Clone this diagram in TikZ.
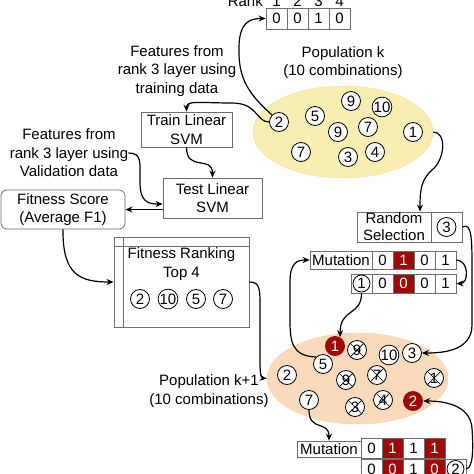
\documentclass[tikz,border=0pt]{standalone}
\usepackage{fontspec}
\setmainfont{Liberation Sans}
\usetikzlibrary{shapes.geometric,arrows.meta,calc}
\definecolor{popy}{RGB}{249,238,178}
\definecolor{popo}{RGB}{249,219,188}
\definecolor{dred}{RGB}{158,8,8}
\definecolor{bord}{RGB}{110,110,110}
\begin{document}
\begin{tikzpicture}[x=1pt,y=-1pt,
  every node/.style={font=\fontsize{15}{18.5}\selectfont},
  txt/.style={align=center,inner sep=0pt},
  box/.style={draw=bord,line width=0.8pt,align=center,inner sep=0pt,fill=white},
  cell/.style={box,minimum width=21pt,minimum height=19pt},
  redcell/.style={cell,fill=dred,text=white},
  circ/.style={circle,draw=black,line width=0.8pt,fill=white,minimum size=19pt,inner sep=0pt},
  smallcirc/.style={circ,minimum size=17pt},
  xcirc/.style={circ,path picture={\draw[line width=0.7pt]
     (path picture bounding box.north west)--(path picture bounding box.south east)
     (path picture bounding box.north east)--(path picture bounding box.south west);}},
  redc/.style={circle,fill=dred,text=white,minimum size=20pt,inner sep=0pt},
  conn/.style={line width=1.2pt,-{Stealth[length=7pt,width=6pt]}}]
\useasboundingbox (0,0) rectangle (474,474);
\fill[white] (0,0) rectangle (474,474);

% ---- Rank header
\node[txt,anchor=base east] (ranklbl) at (263,6) {Rank};
\node[txt,anchor=base] (rk1) at (276.5,6) {1};
\node[txt,anchor=base] (rk2) at (297.5,6) {2};
\node[txt,anchor=base] (rk3) at (318.5,6) {3};
\node[txt,anchor=base] (rk4) at (339.5,6) {4};
\node[cell,minimum height=21pt] (r1) at (276.5,18.5) {0};
\node[cell,minimum height=21pt] (r2) at (297.5,18.5) {0};
\node[cell,minimum height=21pt] (r3) at (318.5,18.5) {1};
\node[cell,minimum height=21pt] (r4) at (339.5,18.5) {0};

% ---- Population k
\node[txt] (popktxt) at (343,62.5) {Population k\\(10 combinations)};
\node[ellipse,fill=popy,draw=popy!85!orange,minimum width=180pt,minimum height=92pt] (popk) at (343,132) {};
\node[circ] (pk2) at (279,122) {2};
\node[circ] (pk5) at (315,116) {5};
\node[circ] (pk9a) at (351,101) {9};
\node[circ] (pk10) at (382,107) {10};
\node[circ] (pk9b) at (338,132) {9};
\node[circ] (pk7a) at (368,127) {7};
\node[circ] (pk1) at (413,132) {1};
\node[circ] (pk7b) at (301,152) {7};
\node[circ] (pk3) at (348,157) {3};
\node[circ] (pk4) at (375,152) {4};

% ---- Left column
\node[txt] (feattrain) at (177,71) {Features from\\rank 3 layer using\\training data};
\node[box,minimum width=91pt,minimum height=35pt] (train) at (186.5,129.5) {Train Linear\\SVM};
\node[box,minimum width=99pt,minimum height=40pt] (test) at (212.5,198) {Test Linear\\SVM};
\node[txt] (featval) at (69,153) {Features from\\rank 3 layer using\\Validation data};
\node[box,rounded corners=6pt,minimum width=124pt,minimum height=39pt] (score) at (63,209.5) {Fitness Score\\(Average F1)};
\node[box,minimum width=135pt,minimum height=90pt] (rank) at (181.5,282) {};
\draw[bord,line width=0.8pt] ($(rank.north west)+(0,10)$) -- ($(rank.north east)+(0,10)$);
\draw[bord,line width=0.8pt] ($(rank.north west)+(10,0)$) -- ($(rank.south west)+(10,0)$);
\node[txt] (ranktxt) at (181.5,264) {Fitness Ranking\\Top 4};
\node[circ] (fr2) at (140,299) {2};
\node[circ] (fr10) at (168,299) {10};
\node[circ] (fr5) at (196,299) {5};
\node[circ] (fr7) at (223,299) {7};

% ---- Random selection
\node[box,minimum width=74pt,minimum height=30pt,font=\fontsize{15}{17}\selectfont] (rsel) at (394,227) {Random\\Selection};
\node[box,minimum width=31pt,minimum height=30pt] (rsel3) at (446.5,227) {};
\node[circ] (rs3) at (446.5,227) {3};

% ---- Mutation 1
\node[box,minimum width=62pt,minimum height=18pt] (mut1) at (341,260) {Mutation};
\node[cell,minimum height=18pt] (m1a) at (382.5,260) {0};
\node[redcell,minimum height=18pt] (m1b) at (403.5,260) {1};
\node[cell,minimum height=18pt] (m1c) at (424.5,260) {0};
\node[cell,minimum height=18pt] (m1d) at (445.5,260) {1};
\node[cell] (m2o) at (361.5,283.5) {};
\node[smallcirc] (m2c) at (361.5,283.5) {1};
\node[cell] (m2a) at (382.5,283.5) {0};
\node[redcell] (m2b) at (403.5,283.5) {0};
\node[cell] (m2c2) at (424.5,283.5) {0};
\node[cell] (m2d) at (445.5,283.5) {1};

% ---- Population k+1
\node[txt] (popk1txt) at (209,391) {Population k+1\\(10 combinations)};
\node[ellipse,fill=popo,draw=popo!85!orange,minimum width=181pt,minimum height=91pt] (popk1) at (357.5,378.5) {};
\node[redc] (q1) at (335,346) {1};
\node[xcirc] (q9a) at (357,350) {9};
\node[circ] (q10) at (389,355) {10};
\node[circ] (q3) at (412,353) {3};
\node[circ] (q5) at (323,364) {5};
\node[circ] (q2) at (287,375) {2};
\node[xcirc] (q9b) at (346,380) {9};
\node[xcirc] (q7a) at (377,375) {7};
\node[xcirc] (q1x) at (434,378) {1};
\node[circ] (q7) at (309,400) {7};
\node[xcirc] (q3x) at (355,407) {3};
\node[xcirc] (q4x) at (383,400) {4};
\node[redc] (q2r) at (413,401) {2};

% ---- Mutation 2
\node[box,minimum width=64pt,minimum height=16pt] (mutB) at (329,449) {Mutation};
\node[cell,minimum height=20pt] (b1a) at (371.5,448) {0};
\node[redcell,minimum height=20pt] (b1b) at (392.5,448) {1};
\node[cell,minimum height=20pt] (b1c) at (413.5,448) {1};
\node[redcell,minimum height=20pt] (b1d) at (434.5,448) {1};
\node[cell,minimum height=20pt] (b2a) at (371.5,469) {0};
\node[redcell,minimum height=20pt] (b2b) at (392.5,469) {0};
\node[cell,minimum height=20pt] (b2c) at (413.5,469) {1};
\node[redcell,minimum height=20pt] (b2d) at (434.5,469) {0};
\node[cell,minimum height=20pt] (b2o) at (455.5,469) {};
\node[smallcirc] (b2cc) at (455.5,469) {2};

% ---- Connectors
\draw[conn] (pk2.north west) .. controls (250,95) and (238,80) .. (239,48)
            .. controls (239,22) and (250,18.5) .. (r1.west);
\draw[conn] (pk2.west) .. controls (256,122) and (258,103) .. (232,103)
            .. controls (200,103) and (186.5,100) .. (train.north);
\draw[conn] (train.south) .. controls (186.5,172) and (212.5,155) .. (test.north);
\draw[conn] (featval.east) .. controls (142,153) and (140,162) .. (140,182)
            .. controls (140,202) and (148,204) .. ([yshift=-6pt]test.west);
\draw[conn] (test.west |- score.east) -- (score.east);
\draw[conn] (score.south) .. controls (62.5,275) and (80,282) .. (rank.west);
\draw[conn] (rank.east) .. controls (261,282) and (260,290) .. (260,315)
            -- (260,362) .. controls (260,377) and (262,378) .. (popk1.west);
\draw[conn] (popk.east) .. controls (447,132) and (445,160) .. (432,170)
            .. controls (421,180) and (420,190) .. ([xshift=26pt]rsel.north);
\draw[conn] (rsel3.east) .. controls (472,222) and (472,240) .. (472,270)
            -- (472,325) .. controls (472,352) and (440,353) .. (q3.east);
\draw[conn] (m1d.east) .. controls (469,260) and (469,283.5) .. (m2d.east);
\draw[conn] (m2o.south) .. controls (361.5,316) and (340,308) .. (q1.60);
\draw[conn] (q5.north west) .. controls (292,356) and (290,342) .. (290,320)
            -- (290,282) .. controls (290,263) and (297,260) .. (mut1.west);
\draw[conn] (q7.south) .. controls (309,432) and (329,420) .. (mutB.north);
\draw[conn] (b2o.east) .. controls (474,467) and (473,445) .. (472,428)
            .. controls (470,404) and (442,401) .. (q2r.east);
\end{tikzpicture}
\end{document}
